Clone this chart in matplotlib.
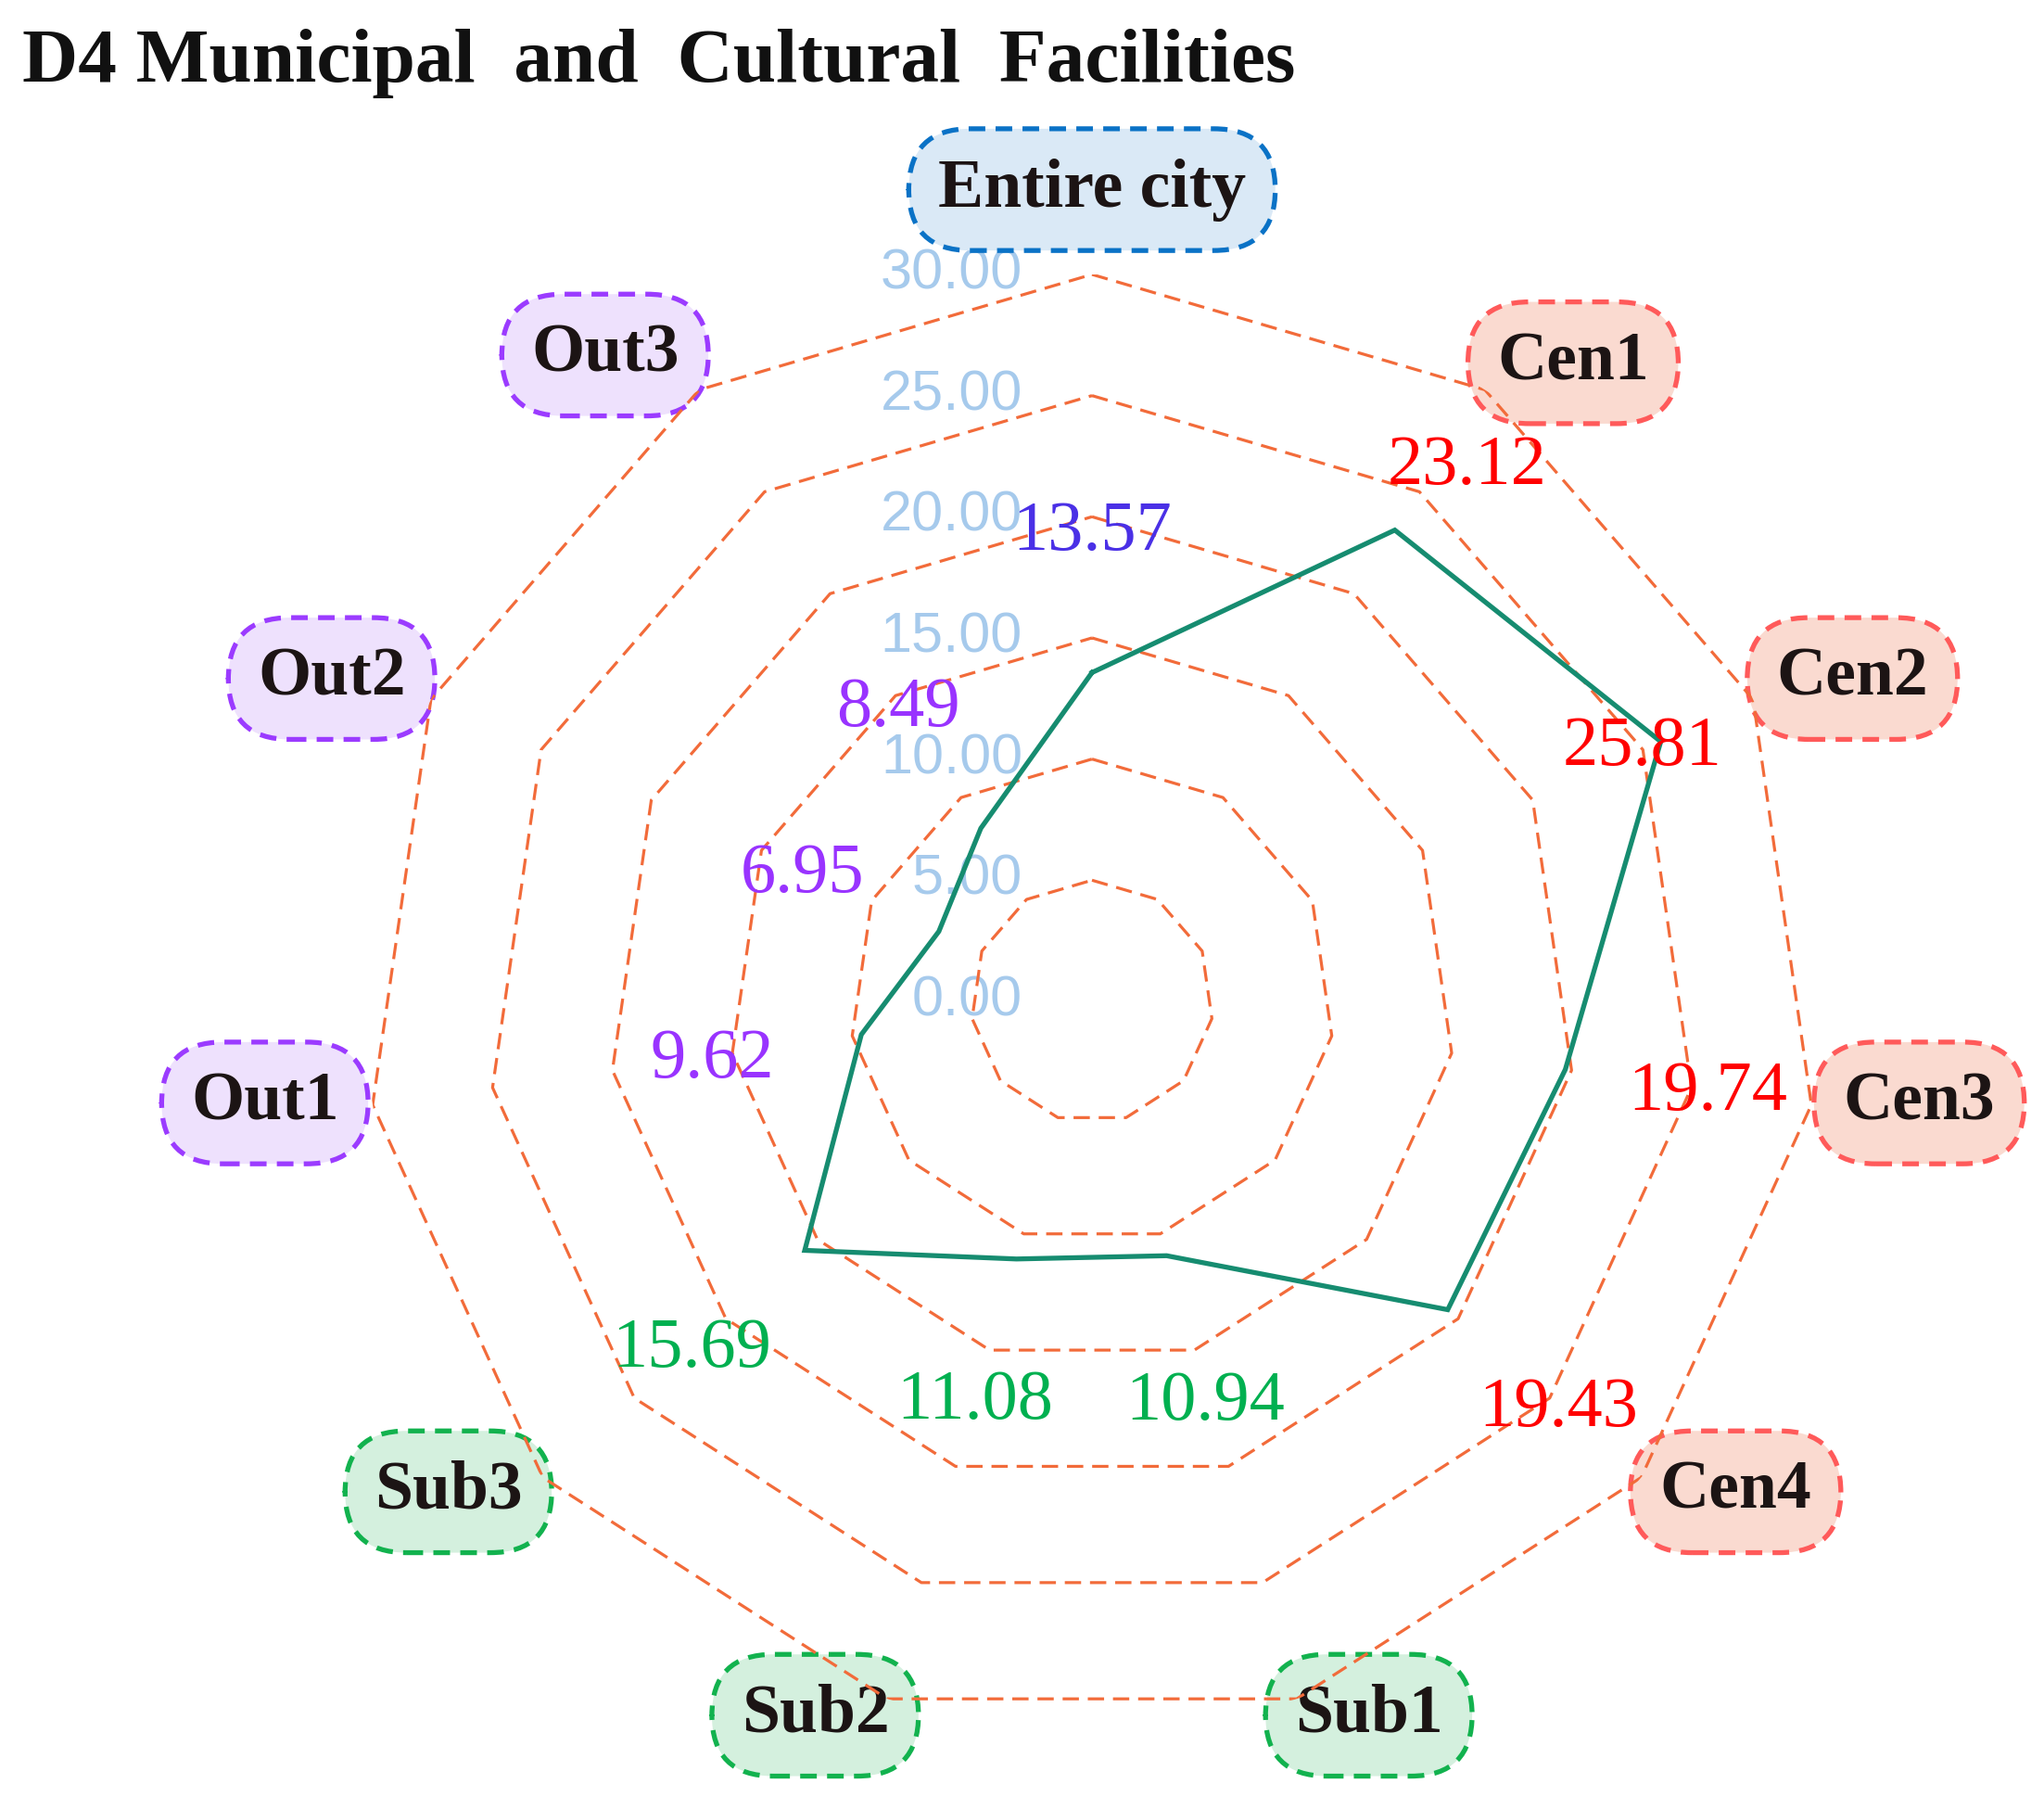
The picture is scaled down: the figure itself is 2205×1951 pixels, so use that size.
import numpy as np
import matplotlib
matplotlib.use("Agg")
import matplotlib.pyplot as plt
import matplotlib.transforms as mtransforms

# data
categories = ["Entire city", "Cen1", "Cen2", "Cen3", "Cen4",
              "Sub1", "Sub2", "Sub3", "Out1", "Out2", "Out3"]
values = [13.57, 23.12, 25.81, 19.74, 19.43,
          10.94, 11.08, 15.69, 9.62, 6.95, 8.49]
groups = ["city", "cen", "cen", "cen", "cen",
          "sub", "sub", "sub", "out", "out", "out"]
ring_levels = [5, 10, 15, 20, 25, 30]
tick_levels = [0, 5, 10, 15, 20, 25, 30]

# layout / style
group_style = {
    "city": dict(text="#4A30E6", fc="#DAE9F6", ec="#0A72C6"),
    "cen": dict(text="#FF0000", fc="#FADAD0", ec="#FF5A5A"),
    "sub": dict(text="#00B050", fc="#D4F0DE", ec="#12B24E"),
    "out": dict(text="#9933FF", fc="#EEE1FD", ec="#9B3BFF"),
}
# label box positions (degrees clockwise from top, radius in data units)
label_angle = [0, 37, 67, 97, 127.3, 158.8, -158.8, -127.3, -97, -67, -37]
label_radius = [33.5, 33.0, 34.1, 34.4, 33.4, 31.6, 31.6, 33.4, 34.4, 34.1, 33.4]
# value label offsets from the data vertex, in pixels (x right, y up)
value_offset = [(0, 151), (78, 68), (-20, -7), (154, -25), (119, -107),
                (42, -158), (-45, -154), (-122, -107), (-161, -28),
                (-147, 61), (-89, 129)]

RING_COLOR = "#F26B3A"
LINE_COLOR = "#168C70"
TICK_COLOR = "#A6CAEC"

fig = plt.figure(figsize=(22.05, 19.51), dpi=100)
ax = fig.add_axes([0.1787, 0.0446, 0.7111, 0.8037], projection="polar")
ax.set_theta_zero_location("N")
ax.set_theta_direction(-1)
ax.set_ylim(0, 30)
ax.axis("off")

n = len(categories)
angles = np.linspace(0, 2 * np.pi, n, endpoint=False)
closed = np.concatenate([angles, angles[:1]])

# dashed rings sit on top of the label boxes, like the original
for lvl in ring_levels:
    ax.plot(closed, [lvl] * (n + 1), color=RING_COLOR, lw=2.3,
            linestyle=(0, (5.5, 3)), zorder=6)

vals_closed = values + values[:1]
ax.plot(closed, vals_closed, color=LINE_COLOR, lw=3.8, zorder=7,
        solid_joinstyle="miter")

# radial tick labels
tick_tr = mtransforms.offset_copy(ax.transData, fig=fig, x=-75, y=0, units="dots")
for lvl in tick_levels:
    ax.text(0, lvl, f"{lvl:.2f}", transform=tick_tr, ha="right", va="center",
            color=TICK_COLOR, fontsize=44, fontweight="light",
            family=["Liberation Sans", "DejaVu Sans"], zorder=2)

# value labels
for ang, v, g, off in zip(angles, values, groups, value_offset):
    tr = mtransforms.offset_copy(ax.transData, fig=fig, x=off[0], y=off[1], units="dots")
    ax.text(ang, v, f"{v:.2f}", transform=tr, ha="center", va="center",
            color=group_style[g]["text"], fontsize=55,
            family="Liberation Serif", zorder=8)

# category label boxes
for cat, g, a, r in zip(categories, groups, label_angle, label_radius):
    st = group_style[g]
    ax.text(np.deg2rad(a), r, cat, ha="center", va="center",
            color="#1C1414", fontsize=53, fontweight="bold",
            family="Liberation Serif", zorder=5,
            bbox=dict(boxstyle="round,pad=0.43,rounding_size=0.9",
                      fc=st["fc"], ec=st["ec"], lw=3.8,
                      linestyle=(0, (3.4, 2.1))))

fig.text(0.011, 1 - 88 / 1951, "D4 Municipal  and  Cultural  Facilities",
         ha="left", va="baseline", fontsize=60, fontweight="bold",
         family="Liberation Serif", color="#111111")

fig.savefig("out.png", dpi=100, facecolor="white")
